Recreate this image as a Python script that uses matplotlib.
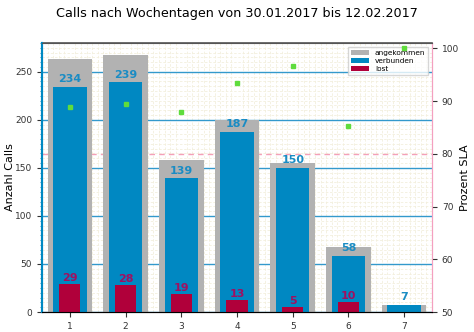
import numpy as np
import matplotlib
matplotlib.use("Agg")
import matplotlib.pyplot as plt
from matplotlib import transforms
from matplotlib.ticker import MultipleLocator

# Data
tage = [1, 2, 3, 4, 5, 6, 7]
angekommen = [263, 267, 158, 200, 155, 68, 7]
verbunden = [234, 239, 139, 187, 150, 58, 7]
lost = [29, 28, 19, 13, 5, 10, 0]
sla = [88.9, 89.5, 88.0, 93.5, 96.7, 85.3, 100.0]
sla_ziel = 80

BLAU = "#0088c2"
ROT = "#b0003a"
GRAU = "#b2b2b2"

fig = plt.figure(figsize=(4.74, 3.32), dpi=100)
ax = fig.add_axes([0.0886, 0.0602, 0.8228, 0.8103])
ax2 = ax.twinx()

x = np.array(tage)
ax.bar(x, angekommen, width=0.8, color=GRAU, label="angekommen", zorder=2)
ax.bar(x, verbunden, width=0.6, color=BLAU, label="verbunden", zorder=3)
ax.bar(x, lost, width=0.38, color=ROT, label="lost", zorder=4)

for xi, v in zip(x, verbunden):
    ax.text(xi, v + 3, str(v), ha="center", va="bottom", color="#1a8cc4",
            fontsize=8, fontweight="bold", zorder=6)
for xi, v in zip(x, lost):
    if v > 0:
        ax.text(xi, v + 1, str(v), ha="center", va="bottom", color="#a01060",
                fontsize=8, fontweight="bold", zorder=6)

ax.set_xlim(0.5, 7.5)
ax.set_ylim(0, 280)
ax.set_xticks(tage)
ax.yaxis.set_major_locator(MultipleLocator(50))
ax.yaxis.set_minor_locator(MultipleLocator(5))
ax.xaxis.set_minor_locator(MultipleLocator(0.1))
ax.tick_params(axis="x", which="minor", length=0)
ax.tick_params(labelsize=6.5, colors="#333333")
ax.tick_params(axis="y", which="minor", length=1.5, color=BLAU)
ax.grid(True, which="major", axis="y", color="#3399cc", lw=1, zorder=1)
ax.grid(True, which="minor", axis="both", color="#f3efdd", lw=0.6,
        ls=(0, (3, 2)), zorder=0)
ax.set_axisbelow(True)
ax.set_ylabel("Anzahl Calls", fontsize=8, labelpad=0)

ax.spines["left"].set_color(BLAU)
ax.spines["left"].set_linewidth(1.5)
ax.spines["right"].set_color("#f4a0c0")
ax.spines["top"].set_color("#555555")
ax.spines["top"].set_linewidth(1.2)

# SLA axis
ax2.set_ylim(50, 101)
ax2.set_yticks([50, 60, 70, 80, 90, 100])
ax2.tick_params(labelsize=6.5, colors="#333333")
ax2.spines["right"].set_color("#f4a0c0")
ax2.spines["left"].set_color(BLAU)
ax2.spines["left"].set_linewidth(1.5)
ax2.spines["top"].set_color("#555555")
ax2.set_ylabel("Prozent SLA", fontsize=8, labelpad=1)
ax2.plot(x, sla, ls="none", marker="s", ms=2.5, color="#5fdc3c", zorder=7)

# SLA target line behind the bars
blend = transforms.blended_transform_factory(ax.transAxes, ax2.transData)
ax.plot([0, 1], [sla_ziel, sla_ziel], transform=blend, color="#f4a0b8",
        ls=(0, (4, 3)), lw=1, zorder=1.5)

ax.legend(loc="upper right", fontsize=5.3, frameon=True, borderpad=0.4,
          handlelength=2.5, labelspacing=0.3, fancybox=False)

fig.suptitle("Calls nach Wochentagen von 30.01.2017 bis 12.02.2017",
             fontsize=9.2, y=0.98)

fig.savefig("out.png", dpi=100)
